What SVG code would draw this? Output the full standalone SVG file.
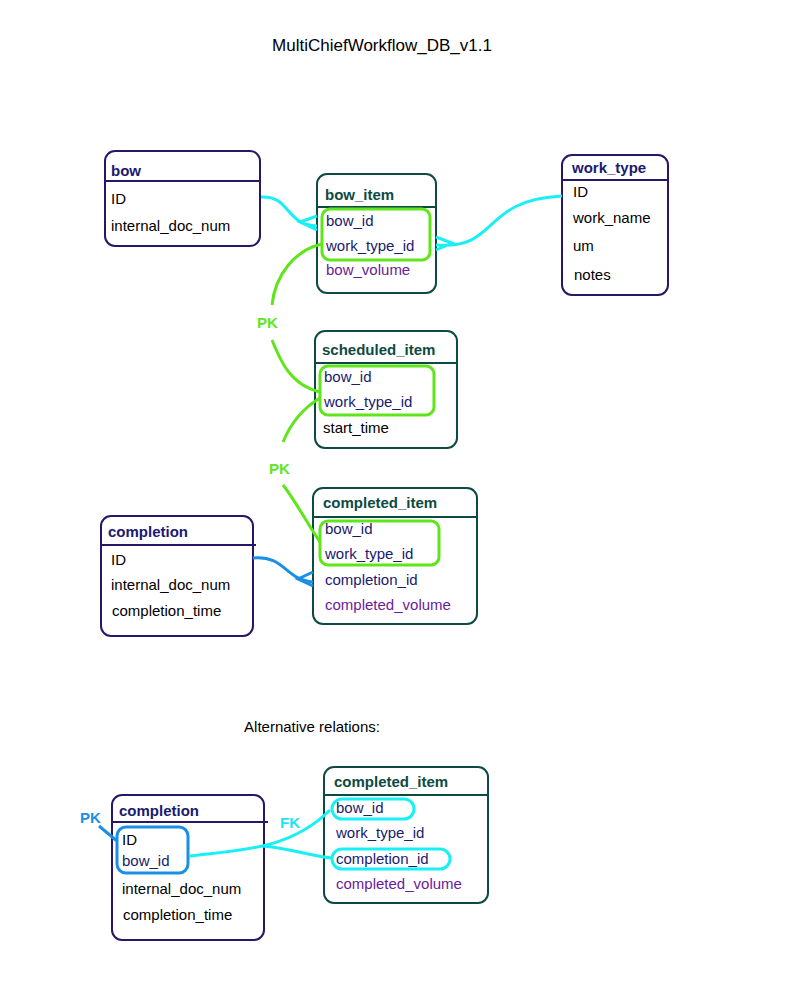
<svg xmlns="http://www.w3.org/2000/svg" width="800" height="1000" viewBox="0 0 800 1000">
<style>
text{font-family:"Liberation Sans",Arial,sans-serif;font-size:15px}
.t{font-weight:bold;fill:#1a1a70}
.tt{font-weight:bold;fill:#0c4a42}
.b{fill:#000}
.n{fill:#1a1a70}
.p{fill:#6a1b9a}
.bn{fill:#fff;stroke:#2a1666;stroke-width:2}
.bt{fill:#fff;stroke:#0e4a44;stroke-width:2}
.ln{stroke:#2a1666;stroke-width:2}
.lt{stroke:#0e4a44;stroke-width:2}
.cy{fill:none;stroke:#19f0f5;stroke-width:3}
.gr{fill:none;stroke:#5ee61a;stroke-width:3}
.bl{fill:none;stroke:#1a8fe6;stroke-width:3}
</style>
<rect width="800" height="1000" fill="#fff"/>
<text x="382" y="51" text-anchor="middle" style="font-size:17px">MultiChiefWorkflow_DB_v1.1</text>
<text x="312" y="732" text-anchor="middle">Alternative relations:</text>
<g id="bow"><rect class="bn" x="105" y="151" width="155" height="95" rx="10"/><line class="ln" x1="105" y1="181" x2="260" y2="181"/>
<text class="t" x="111" y="176">bow</text><text class="b" x="111" y="204">ID</text><text class="b" x="111" y="231">internal_doc_num</text></g>
<g id="bow_item"><rect class="bt" x="317" y="174" width="119" height="119" rx="10"/><line class="lt" x1="317" y1="207" x2="436" y2="207"/>
<text class="tt" x="325" y="200">bow_item</text><text class="n" x="326" y="226">bow_id</text><text class="n" x="326" y="251">work_type_id</text><text class="p" x="326" y="275">bow_volume</text></g>
<g id="work_type"><rect class="bn" x="562" y="155" width="106" height="140" rx="10"/><line class="ln" x1="562" y1="180" x2="668" y2="180"/>
<text class="t" x="572" y="173">work_type</text><text class="b" x="573" y="197">ID</text><text class="b" x="573" y="223">work_name</text><text class="b" x="573" y="251">um</text><text class="b" x="574" y="280">notes</text></g>
<g id="scheduled_item"><rect class="bt" x="315" y="331" width="142" height="117" rx="10"/><line class="lt" x1="315" y1="363" x2="457" y2="363"/>
<text class="tt" x="322" y="355">scheduled_item</text><text class="n" x="324" y="382">bow_id</text><text class="n" x="324" y="407">work_type_id</text><text class="b" x="323" y="433">start_time</text></g>
<g id="completed_item"><rect class="bt" x="313" y="488" width="164" height="136" rx="10"/><line class="lt" x1="313" y1="517" x2="477" y2="517"/>
<text class="tt" x="323" y="508">completed_item</text><text class="n" x="325" y="534">bow_id</text><text class="n" x="325" y="559">work_type_id</text><text class="n" x="325" y="585">completion_id</text><text class="p" x="325" y="610">completed_volume</text></g>
<g id="completion"><rect class="bn" x="101" y="516" width="152" height="120" rx="10"/><line class="ln" x1="101" y1="545" x2="256" y2="545"/>
<text class="t" x="108" y="537">completion</text><text class="b" x="111" y="565">ID</text><text class="b" x="111" y="590">internal_doc_num</text><text class="b" x="112" y="616">completion_time</text></g>
<g id="completion2"><rect class="bn" x="112" y="795" width="152" height="145" rx="10"/><line class="ln" x1="112" y1="822" x2="268" y2="822"/>
<text class="t" x="119" y="816">completion</text><text class="b" x="122" y="845">ID</text><text class="n" x="122" y="866">bow_id</text><text class="b" x="122" y="894">internal_doc_num</text><text class="b" x="123" y="920">completion_time</text></g>
<g id="completed_item2"><rect class="bt" x="324" y="767" width="164" height="136" rx="10"/><line class="lt" x1="324" y1="795" x2="488" y2="795"/>
<text class="tt" x="334" y="787">completed_item</text><text class="n" x="336" y="813">bow_id</text><text class="n" x="336" y="838">work_type_id</text><text class="n" x="336" y="864">completion_id</text><text class="p" x="336" y="889">completed_volume</text></g>
<g id="connectors">
<rect class="gr" x="322" y="209" width="108" height="51" rx="8"/>
<rect class="gr" x="320" y="366" width="114" height="49" rx="8"/>
<rect class="gr" x="320" y="521" width="119" height="44" rx="8"/>
<path class="cy" d="M261 197 C290 195 285 225 317 226 M317 216 L300 222 L317 230"/>
<path class="cy" d="M436 245 C500 250 480 200 562 196 M436 237 L452 243 L436 250"/>
<path class="gr" d="M322 244 C295 250 275 275 272 305 M272 340 C280 360 290 385 320 392"/>
<path class="gr" d="M320 398 C300 410 290 425 283 442 M283 485 C295 500 305 520 320 542"/>
<text x="257" y="328" style="font-weight:bold;fill:#5ee61a">PK</text>
<text x="269" y="474" style="font-weight:bold;fill:#5ee61a">PK</text>
<path class="bl" d="M253 558 C285 555 285 580 313 582 M313 572 L298 579 L313 586"/>
<rect class="bl" x="117" y="827" width="71" height="46" rx="9"/>
<path class="bl" d="M99 826 L117 841"/>
<text x="80" y="823" style="font-weight:bold;fill:#1a8fe6">PK</text>
<text x="280" y="828" style="font-weight:bold;fill:#19e6f0">FK</text>
<rect class="cy" x="332" y="799" width="82" height="20" rx="10"/>
<rect class="cy" x="332" y="849" width="118" height="20" rx="10"/>
<path class="cy" d="M189 856 C240 850 290 850 330 810 M262 846 C290 848 310 856 332 858"/>
</g>
</svg>
